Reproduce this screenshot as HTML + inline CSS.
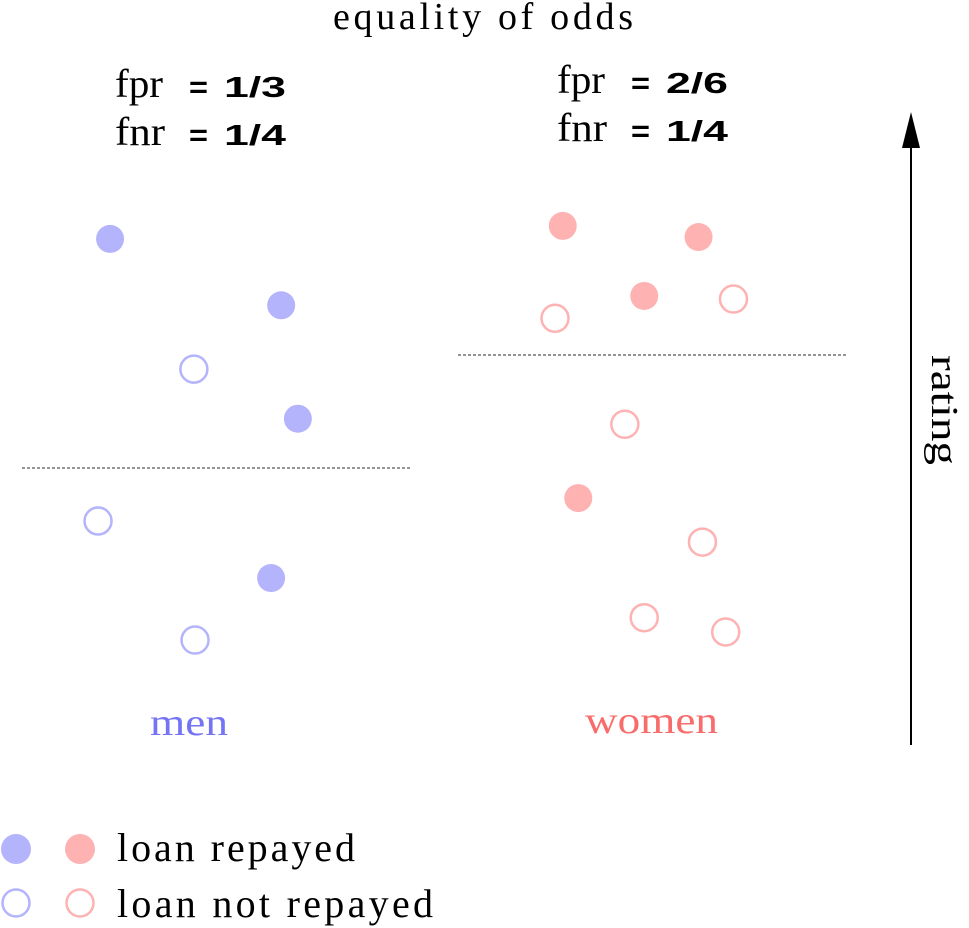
<!DOCTYPE html>
<html><head><meta charset="utf-8"><style>
body{margin:0;background:#fff}
svg{display:block}
.serif{font-family:"Liberation Serif",serif}
.sans{font-family:"Liberation Sans",sans-serif;font-weight:bold}
</style></head><body>
<svg id="chart" width="969" height="928" viewBox="0 0 969 928" xmlns="http://www.w3.org/2000/svg">
<text class="serif" x="333" y="29" font-size="38" textLength="300" lengthAdjust="spacing">equality of odds</text>
<g>
<text class="serif" x="115" y="97" font-size="40" textLength="48" lengthAdjust="spacingAndGlyphs">fpr</text>
<text class="sans" x="189" y="97" font-size="30" textLength="19" lengthAdjust="spacingAndGlyphs">=</text>
<text class="sans" x="224" y="97" font-size="29" textLength="62" lengthAdjust="spacingAndGlyphs">1/3</text>
<text class="serif" x="115" y="145" font-size="40" textLength="50" lengthAdjust="spacingAndGlyphs">fnr</text>
<text class="sans" x="189" y="145" font-size="30" textLength="19" lengthAdjust="spacingAndGlyphs">=</text>
<text class="sans" x="224" y="145" font-size="29" textLength="62" lengthAdjust="spacingAndGlyphs">1/4</text>
</g>
<g>
<text class="serif" x="557" y="93" font-size="40" textLength="48" lengthAdjust="spacingAndGlyphs">fpr</text>
<text class="sans" x="631" y="93" font-size="30" textLength="19" lengthAdjust="spacingAndGlyphs">=</text>
<text class="sans" x="666" y="93" font-size="29" textLength="62" lengthAdjust="spacingAndGlyphs">2/6</text>
<text class="serif" x="557" y="141" font-size="40" textLength="50" lengthAdjust="spacingAndGlyphs">fnr</text>
<text class="sans" x="631" y="141" font-size="30" textLength="19" lengthAdjust="spacingAndGlyphs">=</text>
<text class="sans" x="666" y="141" font-size="29" textLength="62" lengthAdjust="spacingAndGlyphs">1/4</text>
</g>
<line x1="22" y1="468" x2="410" y2="468" stroke="#555" stroke-width="1.2" stroke-dasharray="3,2"/>
<line x1="458" y1="355" x2="846" y2="355" stroke="#555" stroke-width="1.2" stroke-dasharray="3,2"/>
<text class="serif" x="150" y="735" font-size="38" fill="#7474f4" textLength="78" lengthAdjust="spacingAndGlyphs">men</text>
<text class="serif" x="585" y="733" font-size="38" fill="#f86c6c" textLength="133" lengthAdjust="spacingAndGlyphs">women</text>
<line x1="911" y1="745" x2="911" y2="130" stroke="#000" stroke-width="2"/>
<polygon points="911,112 902,148 920,148" fill="#000"/>
<text class="serif" transform="translate(932,355) rotate(90)" font-size="38" textLength="110" lengthAdjust="spacingAndGlyphs">rating</text>
<g id="marks"></g>
<g>
<circle cx="16" cy="849" r="15" fill="#b4b4fc"/>
<circle cx="80" cy="849" r="15" fill="#feb2b2"/>
<circle cx="16" cy="903" r="13.5" fill="none" stroke="#b4b4fc" stroke-width="2.5"/>
<circle cx="80" cy="903" r="13.5" fill="none" stroke="#feb2b2" stroke-width="2.5"/>
<text class="serif" x="117" y="861" font-size="40" textLength="238" lengthAdjust="spacing">loan repayed</text>
<text class="serif" x="117" y="917" font-size="40" textLength="316" lengthAdjust="spacing">loan not repayed</text>
</g>
</svg>
<script>
// horizontal jitter (0..1 within group) and rating values (0..100)
const menJitter = [0.227, 0.668, 0.443, 0.711, 0.196, 0.642, 0.446];
const menRating = [88.4, 77.7, 67.4, 59.4, 42.9, 33.7, 23.7];
const menRepaid = [1, 1, 0, 1, 0, 1, 0];
const womenJitter = [0.27, 0.62, 0.48, 0.25, 0.71, 0.43, 0.31, 0.63, 0.48, 0.69];
const womenRating = [90.5, 88.7, 79.2, 75.6, 78.7, 58.5, 46.6, 39.5, 27.3, 25.0];
const womenRepaid = [1, 1, 1, 0, 0, 0, 1, 0, 0, 0];
const ratingY = r => 787 - r * 6.2;
const groups = [
  {name:'men', jit:menJitter, rat:menRating, rep:menRepaid, x0:22, w:388, color:'#b4b4fc'},
  {name:'women', jit:womenJitter, rat:womenRating, rep:womenRepaid, x0:458, w:388, color:'#feb2b2'}
];
const g = document.getElementById('marks');
const NS = 'http://www.w3.org/2000/svg';
groups.forEach(gr => {
  gr.jit.forEach((j, i) => {
    const c = document.createElementNS(NS, 'circle');
    c.setAttribute('cx', gr.x0 + j * gr.w);
    c.setAttribute('cy', ratingY(gr.rat[i]));
    if (gr.rep[i]) { c.setAttribute('r', 14); c.setAttribute('fill', gr.color); }
    else { c.setAttribute('r', 13.5); c.setAttribute('fill', 'none'); c.setAttribute('stroke', gr.color); c.setAttribute('stroke-width', 2.5); }
    
    
    g.appendChild(c);
  });
});
</script>
</body></html>
